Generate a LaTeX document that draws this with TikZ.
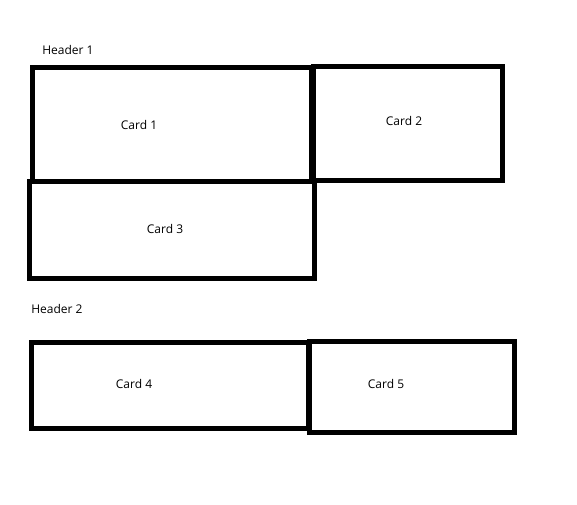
\documentclass[tikz,border=0pt]{standalone}
\usepackage{fontspec}
\setmainfont{Open Sans}
\begin{document}
\begin{tikzpicture}[x=0.75pt,y=-0.75pt,font=\fontsize{9}{11}\selectfont,
  card/.style={line width=3.75pt,line join=miter}]
\useasboundingbox(0,0)rectangle(577,505);
% header 1 group
\node[anchor=west,inner sep=0pt](h1)at(42,50){Header 1};
\draw[card](32.5,68)rectangle(311.5,181.5);
\draw[card](313,66.5)rectangle(502,180.5);
\draw[card](29,181.5)rectangle(314.5,279);
\node(c1)at(139,125){Card 1};
\node(c2)at(404,121){Card 2};
\node(c3)at(165,229){Card 3};
% header 2 group
\node[anchor=west,inner sep=0pt](h2)at(31,309){Header 2};
\draw[card](31.7,342.7)rectangle(308,428);
\draw[card](309,341.7)rectangle(514.3,432);
\node(c4)at(134,384){Card 4};
\node(c5)at(386,384){Card 5};
\end{tikzpicture}
\end{document}
